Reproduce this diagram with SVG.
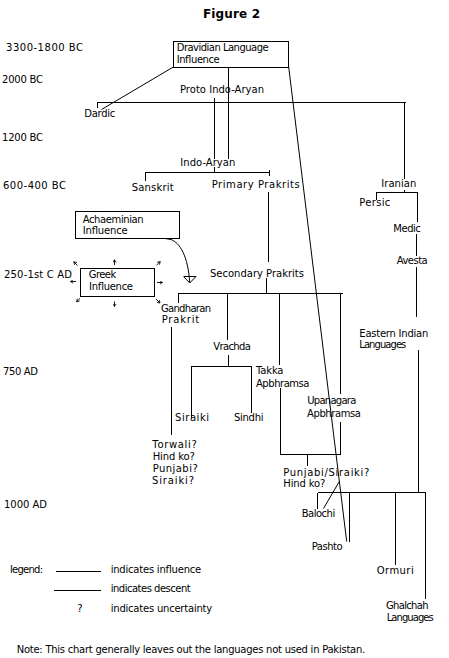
<svg xmlns="http://www.w3.org/2000/svg" width="449" height="658" viewBox="0 0 449 658">
<style>
text{font-family:"DejaVu Sans","Liberation Sans",sans-serif;font-size:10px;fill:#000}
.title{font-weight:bold;font-size:12px}
.ln{stroke:#000;stroke-width:1;fill:none;shape-rendering:crispEdges}
.dg{stroke:#000;stroke-width:1;fill:none}
.box{stroke:#000;stroke-width:1;fill:#fff;shape-rendering:crispEdges}
.ar{stroke:#000;stroke-width:0.9;fill:none;marker-end:url(#ah)}
</style>
<defs>
<marker id="ah" markerWidth="4" markerHeight="4" refX="3" refY="2" orient="auto" markerUnits="userSpaceOnUse">
<path d="M0.3,0.3 L3,2 L0.3,3.7" fill="none" stroke="#000" stroke-width="0.8"/>
</marker>
</defs>
<rect width="449" height="658" fill="#fff"/>
<text class="title" x="203" y="18" textLength="57">Figure 2</text>

<g id="timeline">
<text x="6" y="51" textLength="77">3300-1800 BC</text>
<text x="2" y="83" textLength="41">2000 BC</text>
<text x="2" y="141" textLength="41">1200 BC</text>
<text x="3" y="188.5" textLength="63">600-400 BC</text>
<text x="4" y="278" textLength="68">250-1st C AD</text>
<text x="3" y="374.5" textLength="35">750 AD</text>
<text x="4" y="507.5" textLength="43">1000 AD</text>
</g>

<g id="connectors">
<path class="dg" d="M173.3,67 L101.5,109.5"/>
<path class="dg" d="M288.7,67 L346.7,541.5"/>
<path class="dg" d="M339.3,481.5 L323.5,508.5"/>
<path class="ln" d="M228.5,67 V158.5"/>
<path class="ln" d="M97,102.5 H406"/>
<path class="ln" d="M97.5,102.5 V108"/>
<path class="ln" d="M214.5,98 V158.5"/>
<path class="ln" d="M214.5,167 V172.5"/>
<path class="ln" d="M145,172.5 H270"/>
<path class="ln" d="M145.5,172.5 V181"/>
<path class="ln" d="M269.5,170 V176"/>
<path class="ln" d="M268.5,192 V262"/>
<path class="ln" d="M404.5,102.5 V179"/>
<path class="ln" d="M404.5,189.5 V192.5"/>
<path class="ln" d="M376,192.5 H417.5"/>
<path class="ln" d="M376.5,192.5 V200"/>
<path class="ln" d="M417.5,192.5 V222"/>
<path class="ln" d="M416.5,234 V256"/>
<path class="ln" d="M416.5,267 V317"/>
<path class="ln" d="M418.5,350 V492.5"/>
<path class="dg" d="M165,238.5 L171,239.5 C180,243 188,256 189.7,282.5"/>
<path class="ln" d="M183.5,276.5 H196"/>
<path class="dg" d="M183.5,276.5 L189.7,283 L196,276.5"/>
<path class="ar" d="M77.5,265.5 L73.8,261.8"/>
<path class="ar" d="M114.5,265 V259.8"/>
<path class="ar" d="M156.5,265.3 L160.2,261.6"/>
<path class="ar" d="M76,281.5 H70.5"/>
<path class="ar" d="M157,282.5 H162.5"/>
<path class="ar" d="M80,298.3 L76.6,301.7"/>
<path class="ar" d="M114.5,301.5 V306.5"/>
<path class="ar" d="M156,299 L160,303"/>
<path class="ln" d="M266.5,278 V293.5"/>
<path class="ln" d="M178,293.5 H343"/>
<path class="ln" d="M178.5,293.5 V303"/>
<path class="ln" d="M227.5,293.5 V340"/>
<path class="ln" d="M279.5,293.5 V364.5"/>
<path class="ln" d="M340.5,293.5 V393.5"/>
<path class="ln" d="M171.5,327 V435"/>
<path class="ln" d="M228.5,355 V366.5"/>
<path class="ln" d="M191,366.5 H252"/>
<path class="ln" d="M191.5,366.5 V418"/>
<path class="ln" d="M251.5,366.5 V413"/>
<path class="ln" d="M280.5,388 V454.5"/>
<path class="ln" d="M340.5,422 V454.5"/>
<path class="ln" d="M280,454.5 H341"/>
<path class="ln" d="M307.5,454.5 V466"/>
<path class="ln" d="M318,492.5 H426"/>
<path class="ln" d="M317.5,492.5 V509"/>
<path class="ln" d="M349.5,492.5 V542"/>
<path class="ln" d="M395.5,492.5 V565"/>
<path class="ln" d="M425.5,492.5 V598.5"/>
</g>

<g id="dravidian">
<rect class="box" x="173.5" y="41.5" width="115" height="25.5"/>
<text x="176.7" y="51" textLength="92">Dravidian Language</text>
<text x="176.7" y="63" textLength="43">Influence</text>
</g>
<g id="proto-indo-aryan"><text x="180" y="93.3" textLength="84">Proto Indo-Aryan</text></g>
<g id="dardic"><text x="84.3" y="117.3" textLength="31">Dardic</text></g>
<g id="indo-aryan"><text x="180.3" y="166" textLength="55">Indo-Aryan</text></g>
<g id="sanskrit"><text x="131.7" y="190.7" textLength="42">Sanskrit</text></g>
<g id="primary-prakrits"><text x="211.7" y="188.3" textLength="88">Primary Prakrits</text></g>
<g id="iranian"><text x="381.3" y="187.3" textLength="35">Iranian</text></g>
<g id="persic"><text x="359.3" y="206" textLength="31">Persic</text></g>
<g id="medic"><text x="393.3" y="232.3" textLength="27.5">Medic</text></g>
<g id="avesta"><text x="396.7" y="264.3" textLength="31">Avesta</text></g>
<g id="achaeminian">
<rect class="box" x="75.5" y="211.5" width="103.5" height="27"/>
<text x="82.7" y="222.7" textLength="61">Achaeminian</text>
<text x="82.7" y="234.3" textLength="45">Influence</text>
</g>
<g id="greek">
<rect class="box" x="80.5" y="268.5" width="74" height="27.5"/>
<text x="88.7" y="278.3" textLength="27.5">Greek</text>
<text x="89" y="290" textLength="44">Influence</text>
</g>
<g id="secondary-prakrits"><text x="210" y="276.7" textLength="94">Secondary Prakrits</text></g>
<g id="gandharan">
<text x="161" y="311.7" textLength="50">Gandharan</text>
<text x="161.7" y="323.3" textLength="37.5">Prakrit</text>
</g>
<g id="vrachda"><text x="213.3" y="350" textLength="37.5">Vrachda</text></g>
<g id="eastern-indian">
<text x="359.3" y="336.7" textLength="69">Eastern Indian</text>
<text x="359.3" y="348.3" textLength="47">Languages</text>
</g>
<g id="takka">
<text x="256" y="374.3" textLength="27.5">Takka</text>
<text x="256" y="386.7" textLength="53.5">Apbhramsa</text>
</g>
<g id="upanagara">
<text x="307.3" y="404.3" textLength="49">Upanagara</text>
<text x="307" y="416.7" textLength="54">Apbhramsa</text>
</g>
<g id="siraiki"><text x="175" y="420.7" textLength="34">Siraiki</text></g>
<g id="sindhi"><text x="234" y="420.7" textLength="29.5">Sindhi</text></g>
<g id="torwali">
<text x="152.3" y="448.3" textLength="44.5">Torwali?</text>
<text x="152.7" y="460" textLength="42">Hind ko?</text>
<text x="152.7" y="472.3" textLength="45">Punjabi?</text>
<text x="152" y="484" textLength="42">Siraiki?</text>
</g>
<g id="punjabi-siraiki">
<text x="283.3" y="475.7" textLength="86">Punjabi/Siraiki?</text>
<text x="283.3" y="487.3" textLength="42">Hind ko?</text>
</g>
<g id="balochi"><text x="301.7" y="517.3" textLength="33.5">Balochi</text></g>
<g id="pashto"><text x="311.7" y="550" textLength="31">Pashto</text></g>
<g id="ormuri"><text x="376.7" y="574.3" textLength="37">Ormuri</text></g>
<g id="ghalchah">
<text x="386" y="609.3" textLength="42.5">Ghalchah</text>
<text x="386.7" y="621" textLength="47">Languages</text>
</g>

<g id="legend">
<text x="10" y="573.3" textLength="33">legend:</text>
<path class="ln" d="M56,571.5 H101"/>
<text x="110.7" y="573.3" textLength="90.5">indicates influence</text>
<path class="ln" d="M54,590.5 H101"/>
<text x="110.7" y="591.7" textLength="80">indicates descent</text>
<text x="77.3" y="612.3">?</text>
<text x="110.7" y="612.3" textLength="101.5">indicates uncertainty</text>
</g>
<text x="16.7" y="653.3" textLength="348.5">Note:  This chart generally leaves out the languages not used in Pakistan.</text>
</svg>
